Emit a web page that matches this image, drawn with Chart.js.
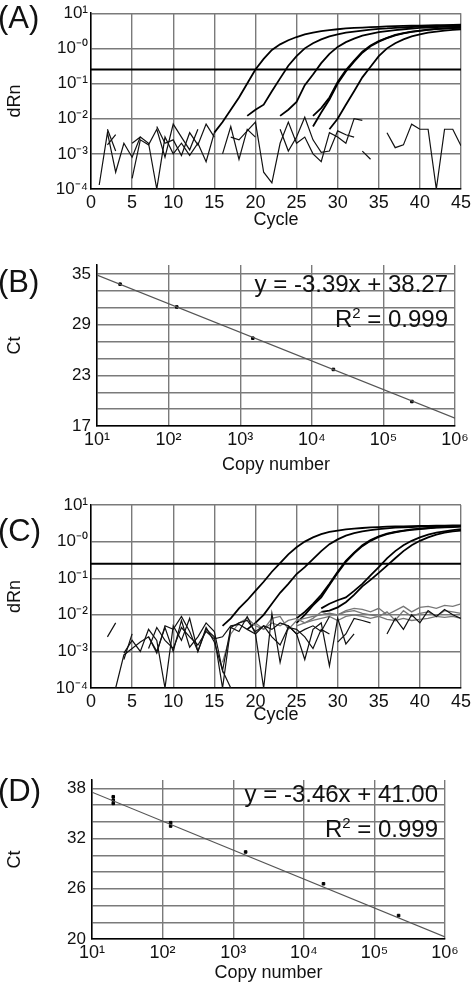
<!DOCTYPE html>
<html><head><meta charset="utf-8">
<script src="https://cdn.jsdelivr.net/npm/chart.js@4.4.1/dist/chart.umd.min.js"></script>
<style>
body{margin:0;background:#fff;width:474px;height:988px;position:relative;overflow:hidden;font-family:"Liberation Sans",Arial,sans-serif}
.pl{position:absolute;font-size:31px;left:-2px;color:#111}
.eq{position:absolute;font-size:24px;color:#111;text-align:right;white-space:nowrap}
.cv{position:absolute;left:0}
</style></head><body>
<canvas id="cA" class="cv" style="top:0px" width="474" height="235"></canvas>
<canvas id="cB" class="cv" style="top:240px" width="474" height="240"></canvas>
<canvas id="cC" class="cv" style="top:480px" width="474" height="250"></canvas>
<canvas id="cD" class="cv" style="top:740px" width="474" height="248"></canvas>
<div class="pl" style="top:0px">(A)</div>
<div class="pl" style="top:264px">(B)</div>
<div class="pl" style="top:513px">(C)</div>
<div class="pl" style="top:773px">(D)</div>
<div class="eq" style="right:26px;top:270px">y = -3.39x + 38.27</div>
<div class="eq" style="right:26px;top:304px">R<sup style="font-size:15px">2</sup> = 0.999</div>
<div class="eq" style="right:36px;top:780px">y = -3.46x + 41.00</div>
<div class="eq" style="right:36px;top:814px">R<sup style="font-size:15px">2</sup> = 0.999</div>
<script>
// ---------- Panel A data (cycle start + dRn values) ----------
const threshA = 0.25, threshC = 0.25;
const A_amp1_start = 15;
const A_amp1 = [0.004,0.008,0.018,0.04,0.1,0.25,0.5,0.9,1.3,1.7,2.1,2.5,2.8,3.1,3.3,3.5,3.7,3.8,3.9,4.0,4.1,4.2,4.3,4.35,4.4,4.45,4.5,4.55,4.6,4.65,4.7];
const A_amp2_start = 19;
const A_amp2 = [0.012,0.018,0.025,0.06,0.14,0.32,0.6,1.0,1.4,1.8,2.2,2.5,2.8,3.0,3.2,3.4,3.6,3.7,3.85,3.95,4.05,4.15,4.25,4.3,4.4,4.45,4.5];
const A_amp3_start = 23;
const A_amp3 = [0.012,0.018,0.03,0.09,0.18,0.38,0.7,1.1,1.5,1.9,2.3,2.6,2.9,3.1,3.3,3.5,3.65,3.8,3.9,4.0,4.1,4.15,4.2];
const A_amp4_start = 27;
const A_amp4 = [0.012,0.02,0.04,0.11,0.24,0.45,0.8,1.2,1.6,2.0,2.4,2.7,3.0,3.2,3.4,3.6,3.7,3.8,3.9];
const A_amp5_start = 27;
const A_amp5 = [0.006,0.015,0.035,0.1,0.22,0.42,0.75,1.15,1.55,1.95,2.35,2.65,2.95,3.15,3.35,3.55,3.65,3.75,3.85];
const A_amp6_start = 29;
const A_amp6 = [0.005,0.01,0.025,0.06,0.15,0.3,0.6,1.0,1.4,1.8,2.2,2.5,2.8,3.0,3.2,3.35,3.5];
const A_noise1 = [0.00013,0.004,0.0003,0.002,0.0008,0.003,0.002,0.0001,0.003,0.001,0.002,0.0009,0.002,0.0006,0.004];
const A_noise2 = [null,0.0018,0.0035,null,0.0002,0.0025,0.0018,0.005,0.0008,0.007,0.003,0.0013,0.005,null,null,0.001,0.006,0.0007,0.005,0.003];
const A_noise3 = [null,0.005,0.0012,null,0.002,0.003,null,0.006,0.002,0.0025,0.0009,0.004,0.0018,0.007,0.003,null,0.003,0.0025,0.0045,0.008,0.0003,0.00015,0.002,0.008,0.002,0.003,0.001,0.0006,0.004,0.003,0.002,0.01,0.009];
const A_noise4 = [null,null,null,null,null,null,null,null,null,null,null,null,null,null,null,null,null,null,null,0.0004,null,null,0.005,0.0012,0.003,0.011,0.0025,0.0011,0.0012,0.0045,0.0035,0.003];
const A_noise5 = [null,null,null,null,null,null,null,null,null,null,null,null,null,null,null,null,null,null,null,null,null,null,null,null,null,null,null,null,null,null,null,null,0.0012,0.0007,null,0.004,0.0015,0.0018,0.007,0.005,0.005,0.0001,0.005,0.005,0.0017,0.003,0.005];
// ---------- Panel C data ----------
const C_amp1_start = 16;
const C_amp1 = [0.005,0.008,0.015,0.025,0.045,0.08,0.15,0.26,0.45,0.7,1.0,1.3,1.6,1.85,2.0,2.15,2.25,2.35,2.45,2.5,2.55,2.6,2.62,2.65,2.68,2.7,2.72,2.74,2.76,2.78];
const C_amp2_start = 19;
const C_amp2 = [0.004,0.006,0.01,0.02,0.04,0.07,0.13,0.2,0.33,0.55,0.85,1.15,1.45,1.7,1.9,2.05,2.2,2.3,2.4,2.45,2.5,2.55,2.6,2.62,2.65,2.68,2.7];
const C_amp3_start = 25;
const C_amp3 = [0.008,0.012,0.02,0.035,0.07,0.15,0.3,0.5,0.8,1.1,1.4,1.65,1.85,2.0,2.15,2.25,2.35,2.45,2.5,2.55,2.6];
const C_amp4_start = 25;
const C_amp4 = [0.006,0.01,0.018,0.03,0.065,0.14,0.28,0.48,0.75,1.05,1.35,1.6,1.8,1.95,2.1,2.2,2.3,2.4,2.45,2.5,2.55];
const C_amp5_start = 28;
const C_amp5 = [0.015,0.02,0.025,0.03,0.045,0.07,0.12,0.2,0.35,0.55,0.8,1.05,1.3,1.55,1.75,1.9,2.05,2.2];
const C_amp6_start = 28;
const C_amp6 = [0.012,0.013,0.016,0.022,0.035,0.06,0.09,0.14,0.22,0.35,0.55,0.8,1.05,1.3,1.55,1.75,1.9,2.0];
const C_noise1 = [null,null,0.0001,0.0008,0.0012,0.0018,0.0025,0.0009,0.005,0.004,0.009,0.0035,0.001,0.0045,0.0018,0.0003,0.0001];
const C_noise2 = [null,null,null,0.0009,0.002,0.001,0.004,0.002,0.0001,0.005,0.002,0.008,0.001,0.004,0.0025,0.0001,0.0045,0.006,0.007,0.0035,0.005,0.0025,0.0015,0.0045,0.004,0.0025,0.0012,0.004,0.003];
const C_noise3 = [null,null,null,0.0006,0.003,null,0.0025,0.001,0.0045,0.001,0.007,0.0013,0.0025,0.006,0.0035,0.0003,0.0045,0.0035,0.009,0.003,0.0001,0.011,0.0005,0.005,0.003,0.0006,0.004,0.006,0.0004,0.008,0.0016,0.003];
const C_noise4 = [null,0.0025,0.006,null,null,null,0.0012,0.0045,0.002,0.0012,0.0045,0.0025,0.0015,0.0035,0.0022,0.0025,0.005,0.0055,0.004,0.003,0.005,0.004,0.006,0.005,0.003,0.004,0.005,0.0035,0.009];
const C_gray1 = [null,null,null,null,null,null,null,null,null,null,null,null,null,null,null,0.0005,0.003,0.006,0.008,0.005,0.004,0.006,0.005,0.007,0.008,0.006,0.008,0.012,0.01,0.01,0.013,0.015,0.014,0.012,0.015,0.01,0.013,0.017,0.012,0.016,0.017,0.015,0.018,0.017,0.02];
const C_gray2 = [null,null,null,null,null,null,null,null,null,null,null,null,null,null,null,null,null,null,null,0.006,0.004,0.008,0.009,0.004,0.007,0.008,0.009,0.01,0.011,0.01,0.012,0.013,0.011,0.01,0.009,0.012,0.007,0.013,0.009,0.011,0.012,0.009,0.013,0.012,0.011];
const C_gray3 = [null,null,null,null,null,null,null,null,null,null,null,null,null,null,null,null,null,null,null,null,null,null,null,null,0.005,0.006,0.007,0.008,0.009,0.007,0.009,0.01,0.009,0.008,0.009,0.0075,0.007,0.008,0.007,0.0075,0.008,0.009,0.0085,0.009,0.008];
const C_black_late = [null,null,null,null,null,null,null,null,null,null,null,null,null,null,null,null,null,null,null,null,null,null,null,null,null,null,null,null,null,0.0018,0.003,0.008,0.007,0.006,null,0.003,0.008,0.004,0.01,0.006,0.013,0.009,0.014,0.01,0.008];
// ---------- Standard curves ----------
const B_copies = [21,130,1500,20000,250000];
const B_ct = [33.8,31.1,27.4,23.7,19.9];
const B_slope = -3.39, B_int = 38.27;
const D_copies = [20,20,20,130,130,1500,19000,220000];
const D_ct = [36.2,36.6,37.0,33.5,33.9,30.4,26.6,22.8];
const D_slope = -3.46, D_int = 41.00;
const logTicks = [1e-4,1e-3,1e-2,1e-1,1,10];
const logTickLabels = ['10⁻⁴','10⁻³','10⁻²','10⁻¹','10⁻⁰','10¹'];
const copyTicks = [1e1,1e2,1e3,1e4,1e5,1e6];
const copyTickLabels = ['10¹','10²','10³','10⁴','10⁵','10⁶'];

const FONT = {family:'"Liberation Sans", Arial, sans-serif', size:17};
const GRID = '#7a7a7a';

function series(start, vals){ return vals.map((v,i)=>({x:start+i, y:v})); }
function ds(data, color, w){ return {data, borderColor:color||'#111', borderWidth:w||1.3, pointRadius:0, fill:false, spanGaps:false, tension:0}; }

function amplChart(id, amps, noises, grays, thr, plotTop, plotBottom, canvasH){
  const datasets = [];
  noises.forEach(n=>datasets.push(ds(series(1,n),'#111',1.2)));
  grays.forEach(n=>datasets.push(ds(series(1,n),'#777',1.3)));
  amps.forEach(a=>datasets.push(ds(series(a[0],a[1]),'#000',1.8)));
  datasets.push(ds([{x:0,y:thr},{x:45,y:thr}],'#000',2));
  return new Chart(document.getElementById(id),{type:'line',data:{datasets},
    options:{responsive:false,animation:false,events:[],
      layout:{padding:{top:plotTop,right:13,left:0,bottom:0}},
      plugins:{legend:{display:false},tooltip:{enabled:false}},
      scales:{
        x:{type:'linear',min:0,max:45,
          afterBuildTicks:s=>{s.ticks=[0,5,10,15,20,25,30,35,40,45].map(v=>({value:v}));},
          afterFit:s=>{s.height=canvasH-plotBottom;},
          grid:{color:GRID,lineWidth:1.4,drawTicks:false},border:{color:'#000',width:1.5},
          ticks:{color:'#111',font:{...FONT,size:18},padding:3,maxRotation:0,autoSkip:false},
          title:{display:true,text:'Cycle',color:'#111',font:{...FONT,size:18},padding:{top:0}}},
        y:{type:'logarithmic',min:1e-4,max:10,
          afterBuildTicks:s=>{s.ticks=logTicks.map(v=>({value:v}));},
          afterFit:s=>{s.width=91;},
          grid:{color:GRID,lineWidth:1.4,drawTicks:false},border:{color:'#000',width:1.5},
          ticks:{color:'#111',font:{...FONT,size:17},padding:3,autoSkip:false,callback:v=>logTickLabels[logTicks.findIndex(t=>Math.abs(t-v)/t<1e-6)]??''},
          title:{display:true,text:'dRn',color:'#111',font:{...FONT,size:18},padding:{bottom:0}}}
      }}});
}

amplChart('cA',
  [[A_amp1_start,A_amp1],[A_amp2_start,A_amp2],[A_amp3_start,A_amp3],[A_amp4_start,A_amp4],[A_amp5_start,A_amp5],[A_amp6_start,A_amp6]],
  [A_noise1,A_noise2,A_noise3,A_noise4,A_noise5],[],threshA,2,189,235);
amplChart('cC',
  [[C_amp1_start,C_amp1],[C_amp2_start,C_amp2],[C_amp3_start,C_amp3],[C_amp4_start,C_amp4],[C_amp5_start,C_amp5],[C_amp6_start,C_amp6]],
  [C_noise1,C_noise2,C_noise3,C_noise4,C_black_late],[C_gray1,C_gray2,C_gray3],threshC,25,208,250);

function stdChart(id, copies, ct, slope, inter, ymin, ymax, yLabels, left, right, top, bottom, canvasH){
  const pts = copies.map((c,i)=>({x:c,y:ct[i]}));
  const fit = [10,1e6].map(c=>({x:c,y:slope*Math.log10(c)+inter}));
  const yt=[]; for(let v=ymin; v<ymax; v+=2) yt.push(v);
  return new Chart(document.getElementById(id),{type:'scatter',data:{datasets:[
      {type:'line',data:fit,borderColor:'#555',borderWidth:1.2,pointRadius:0},
      {data:pts,pointStyle:'rect',pointRadius:1.8,backgroundColor:'#000',borderColor:'#000'}]},
    options:{responsive:false,animation:false,events:[],
      layout:{padding:{top:top,right:right,left:0,bottom:0}},
      plugins:{legend:{display:false},tooltip:{enabled:false}},
      scales:{
        x:{type:'logarithmic',min:10,max:1e6,
          afterBuildTicks:s=>{s.ticks=copyTicks.map(v=>({value:v}));},
          afterFit:s=>{s.height=canvasH-bottom;},
          grid:{color:GRID,lineWidth:1.4,drawTicks:false},border:{color:'#000',width:1.5},
          ticks:{color:'#111',font:{...FONT,size:18},padding:3,maxRotation:0,autoSkip:false,callback:v=>copyTickLabels[copyTicks.findIndex(t=>Math.abs(t-v)/t<1e-6)]??''},
          title:{display:true,text:'Copy number',color:'#111',font:{...FONT,size:18},padding:{top:0}}},
        y:{type:'linear',min:ymin,max:ymax,
          afterBuildTicks:s=>{s.ticks=yt.map(v=>({value:v}));},
          afterFit:s=>{s.width=left;},
          grid:{color:GRID,lineWidth:1.4,drawTicks:false},border:{color:'#000',width:1.5},
          ticks:{color:'#111',font:{...FONT,size:17},padding:6,autoSkip:false,callback:v=>yLabels.includes(v)?String(v):''},
          title:{display:true,text:'Ct',color:'#111',font:{...FONT,size:18},padding:{bottom:4}}}
      }}});
}
stdChart('cB',B_copies,B_ct,B_slope,B_int,17,36.07,[17,23,29,35],97,19,25,186,240);
stdChart('cD',D_copies,D_ct,D_slope,D_int,20,39,[20,26,32,38],92,29,40,199,248);
</script></body></html>
